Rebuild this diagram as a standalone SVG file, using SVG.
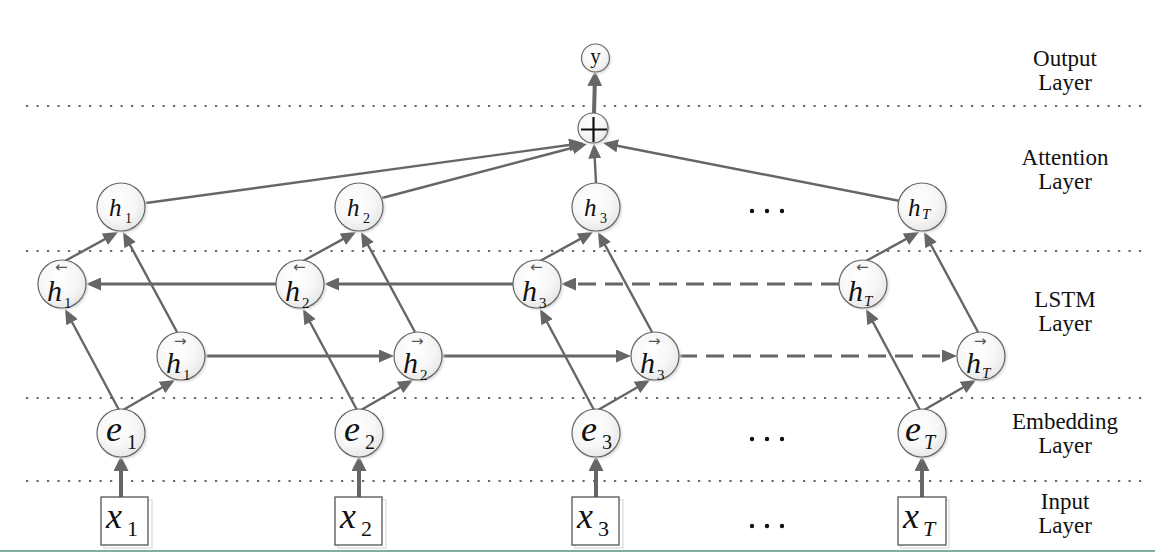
<svg xmlns="http://www.w3.org/2000/svg" width="1155" height="555" viewBox="0 0 1155 555">
<style>
.dot{stroke:#6a6a6a;stroke-width:2.2;stroke-dasharray:2.2 8.3;fill:none}
.c{stroke:#666;stroke-width:2.4;fill:none}
.ch{stroke:#666;stroke-width:3;fill:none}
.ck{stroke:#666;stroke-width:4;fill:none}
.dash{stroke-dasharray:18 9}
.node{fill:url(#g);stroke:#666;stroke-width:1.2}
.shadow{fill:#dcdcdc;filter:url(#blur)}
.box{fill:#fff;stroke:#555;stroke-width:1.3}
.boxs{fill:none;stroke:#e2e2e2;stroke-width:1.5}
.lbl{font-size:23px;fill:#111;text-anchor:middle}
.t{fill:#111}
.m{font-style:italic}
.ht{font-size:25px}
.hs{font-size:14px}
.hb{font-size:30px}
.hbs{font-size:15px}
.ar{font-family:"DejaVu Sans",sans-serif;font-size:15px;fill:#555;font-style:normal}
.ee{font-size:36px}
.es{font-size:20px}
.xs{font-size:22px}
</style>
<defs>
<radialGradient id="g" cx="0.42" cy="0.38" r="0.65">
<stop offset="0" stop-color="#ffffff"/>
<stop offset="0.6" stop-color="#f7f7f7"/>
<stop offset="1" stop-color="#e6e6e6"/>
</radialGradient>
<filter id="blur" x="-20%" y="-20%" width="140%" height="140%"><feGaussianBlur stdDeviation="1.2"/></filter>
<marker id="a" markerUnits="userSpaceOnUse" markerWidth="15" markerHeight="13" refX="11" refY="6.5" orient="auto"><path d="M0,0 L15,6.5 L0,13 z" fill="#666"/></marker>
<marker id="ak" markerUnits="userSpaceOnUse" markerWidth="15" markerHeight="15" refX="10" refY="7.5" orient="auto"><path d="M0,0 L15,7.5 L0,15 z" fill="#666"/></marker>
</defs>
<rect width="1155" height="555" fill="#fff"/>

<g id="layer-lines">
<line class="dot" x1="26" y1="106" x2="1142" y2="106"/>
<line class="dot" x1="26" y1="251" x2="1142" y2="251"/>
<line class="dot" x1="26" y1="398" x2="1142" y2="398"/>
<line class="dot" x1="26" y1="481" x2="1142" y2="481"/>
<line x1="0" y1="551" x2="1155" y2="551" stroke="#5a9478" stroke-width="1.5"/>
</g>

<g id="layer-labels" font-family="Liberation Serif, Times New Roman, DejaVu Serif, serif">
<text class="lbl" x="1065" y="66">Output</text>
<text class="lbl" x="1065" y="90">Layer</text>
<text class="lbl" x="1065" y="165">Attention</text>
<text class="lbl" x="1065" y="189">Layer</text>
<text class="lbl" x="1065" y="307">LSTM</text>
<text class="lbl" x="1065" y="331">Layer</text>
<text class="lbl" x="1065" y="429">Embedding</text>
<text class="lbl" x="1065" y="453">Layer</text>
<text class="lbl" x="1065" y="509">Input</text>
<text class="lbl" x="1065" y="533">Layer</text>
</g>

<g id="connectors">
<line class="ck" x1="594" y1="113" x2="595" y2="76" marker-end="url(#ak)"/>
<line class="c" x1="146" y1="203" x2="580" y2="143.5" marker-end="url(#a)"/>
<line class="c" x1="382" y1="198" x2="583.1" y2="145" marker-end="url(#a)"/>
<line class="c" x1="596" y1="183" x2="594.2" y2="147.5" marker-end="url(#a)"/>
<line class="c" x1="900" y1="201" x2="606.9" y2="143.8" marker-end="url(#a)"/>

<line class="c" x1="65" y1="261" x2="114.5" y2="233.9" marker-end="url(#a)"/>
<line class="c" x1="177" y1="332" x2="124.9" y2="235.5" marker-end="url(#a)"/>
<line class="c" x1="119" y1="410" x2="66.9" y2="312.5" marker-end="url(#a)"/>
<line class="c" x1="123" y1="410" x2="171.5" y2="382" marker-end="url(#a)"/>

<line class="c" x1="303" y1="261" x2="352.5" y2="233.9" marker-end="url(#a)"/>
<line class="c" x1="415" y1="332" x2="362.9" y2="235.5" marker-end="url(#a)"/>
<line class="c" x1="357" y1="410" x2="304.9" y2="312.5" marker-end="url(#a)"/>
<line class="c" x1="361" y1="410" x2="409.5" y2="382" marker-end="url(#a)"/>

<line class="c" x1="540" y1="261" x2="589.5" y2="233.9" marker-end="url(#a)"/>
<line class="c" x1="652" y1="332" x2="599.9" y2="235.5" marker-end="url(#a)"/>
<line class="c" x1="594" y1="410" x2="541.9" y2="312.5" marker-end="url(#a)"/>
<line class="c" x1="598" y1="410" x2="646.5" y2="382" marker-end="url(#a)"/>

<line class="c" x1="866" y1="261" x2="915.5" y2="233.9" marker-end="url(#a)"/>
<line class="c" x1="978" y1="332" x2="925.9" y2="235.5" marker-end="url(#a)"/>
<line class="c" x1="920" y1="410" x2="867.9" y2="312.5" marker-end="url(#a)"/>
<line class="c" x1="924" y1="410" x2="972.5" y2="382" marker-end="url(#a)"/>

<line class="ch" x1="276" y1="284" x2="90" y2="284" marker-end="url(#a)"/>
<line class="ch" x1="513" y1="284" x2="328" y2="284" marker-end="url(#a)"/>
<line class="ch dash" x1="839" y1="284" x2="565" y2="284" marker-end="url(#a)"/>
<line class="ch" x1="205" y1="356" x2="390" y2="356" marker-end="url(#a)"/>
<line class="ch" x1="442" y1="356" x2="627" y2="356" marker-end="url(#a)"/>
<line class="ch dash" x1="679" y1="356" x2="953" y2="356" marker-end="url(#a)"/>

<line class="ck" x1="121" y1="497" x2="121" y2="461" marker-end="url(#ak)"/>
<line class="ck" x1="359" y1="497" x2="359" y2="461" marker-end="url(#ak)"/>
<line class="ck" x1="596" y1="497" x2="596" y2="461" marker-end="url(#ak)"/>
<line class="ck" x1="922" y1="497" x2="922" y2="461" marker-end="url(#ak)"/>
</g>

<g id="nodes" font-family="Liberation Serif, Times New Roman, DejaVu Serif, serif">
<g id="node-y">
<circle class="shadow" cx="597" cy="60" r="14"/>
<circle class="node" cx="595.5" cy="58" r="14"/>
<text class="t" x="595.5" y="63" font-size="21" text-anchor="middle">y</text>
</g>
<g id="node-sum">
<circle class="shadow" cx="595" cy="130" r="15"/>
<circle class="node" cx="593" cy="128" r="15"/>
<path d="M581,129.5 H607 M593.5,117 V142" stroke="#111" stroke-width="2.2" fill="none"/>
</g>

<g id="node-h1">
<circle class="shadow" cx="123" cy="209" r="24"/>
<circle class="node" cx="121" cy="207" r="24"/>
<text class="t"><tspan class="m ht" x="109" y="216">h</tspan><tspan class="hs" x="125" y="223">1</tspan></text>
</g>
<g id="node-h2">
<circle class="shadow" cx="361" cy="209" r="24"/>
<circle class="node" cx="359" cy="207" r="24"/>
<text class="t"><tspan class="m ht" x="347" y="216">h</tspan><tspan class="hs" x="363" y="223">2</tspan></text>
</g>
<g id="node-h3">
<circle class="shadow" cx="598" cy="209" r="24"/>
<circle class="node" cx="596" cy="207" r="24"/>
<text class="t"><tspan class="m ht" x="584" y="216">h</tspan><tspan class="hs" x="600" y="223">3</tspan></text>
</g>
<g id="node-hT">
<circle class="shadow" cx="924" cy="209" r="24"/>
<circle class="node" cx="922" cy="207" r="24"/>
<text class="t"><tspan class="m ht" x="908" y="216">h</tspan><tspan class="m hbs" x="922" y="219">T</tspan></text>
</g>
<g id="ellipsis-h">
<circle cx="752" cy="211" r="2.2" fill="#111"/><circle cx="767" cy="211" r="2.2" fill="#111"/><circle cx="782" cy="211" r="2.2" fill="#111"/>
</g>

<g id="node-bh1">
<circle class="shadow" cx="64" cy="286" r="24"/>
<circle class="node" cx="62" cy="284" r="24"/>
<text class="t"><tspan class="ar" x="55" y="272">←</tspan><tspan class="m hb" x="47" y="301">h</tspan><tspan class="hbs" x="64" y="308">1</tspan></text>
</g>
<g id="node-bh2">
<circle class="shadow" cx="302" cy="286" r="24"/>
<circle class="node" cx="300" cy="284" r="24"/>
<text class="t"><tspan class="ar" x="293" y="272">←</tspan><tspan class="m hb" x="285" y="301">h</tspan><tspan class="hbs" x="302" y="308">2</tspan></text>
</g>
<g id="node-bh3">
<circle class="shadow" cx="539" cy="286" r="24"/>
<circle class="node" cx="537" cy="284" r="24"/>
<text class="t"><tspan class="ar" x="530" y="272">←</tspan><tspan class="m hb" x="522" y="301">h</tspan><tspan class="hbs" x="539" y="308">3</tspan></text>
</g>
<g id="node-bhT">
<circle class="shadow" cx="865" cy="286" r="24"/>
<circle class="node" cx="863" cy="284" r="24"/>
<text class="t"><tspan class="ar" x="856" y="272">←</tspan><tspan class="m hb" x="848" y="301">h</tspan><tspan class="m hbs" x="864" y="306">T</tspan></text>
</g>

<g id="node-fh1">
<circle class="shadow" cx="183" cy="358" r="24"/>
<circle class="node" cx="181" cy="356" r="24"/>
<text class="t"><tspan class="ar" x="174" y="346">→</tspan><tspan class="m hb" x="166" y="373">h</tspan><tspan class="hbs" x="183" y="380">1</tspan></text>
</g>
<g id="node-fh2">
<circle class="shadow" cx="420" cy="358" r="24"/>
<circle class="node" cx="418" cy="356" r="24"/>
<text class="t"><tspan class="ar" x="411" y="346">→</tspan><tspan class="m hb" x="403" y="373">h</tspan><tspan class="hbs" x="420" y="380">2</tspan></text>
</g>
<g id="node-fh3">
<circle class="shadow" cx="657" cy="358" r="24"/>
<circle class="node" cx="655" cy="356" r="24"/>
<text class="t"><tspan class="ar" x="648" y="346">→</tspan><tspan class="m hb" x="640" y="373">h</tspan><tspan class="hbs" x="657" y="380">3</tspan></text>
</g>
<g id="node-fhT">
<circle class="shadow" cx="983" cy="358" r="24"/>
<circle class="node" cx="981" cy="356" r="24"/>
<text class="t"><tspan class="ar" x="974" y="346">→</tspan><tspan class="m hb" x="966" y="373">h</tspan><tspan class="m hbs" x="982" y="378">T</tspan></text>
</g>

<g id="node-e1">
<circle class="shadow" cx="123" cy="435" r="24"/>
<circle class="node" cx="121" cy="433" r="24"/>
<text class="t"><tspan class="m ee" x="106" y="441">e</tspan><tspan class="es" x="127" y="449">1</tspan></text>
</g>
<g id="node-e2">
<circle class="shadow" cx="361" cy="435" r="24"/>
<circle class="node" cx="359" cy="433" r="24"/>
<text class="t"><tspan class="m ee" x="344" y="441">e</tspan><tspan class="es" x="365" y="449">2</tspan></text>
</g>
<g id="node-e3">
<circle class="shadow" cx="598" cy="435" r="24"/>
<circle class="node" cx="596" cy="433" r="24"/>
<text class="t"><tspan class="m ee" x="581" y="441">e</tspan><tspan class="es" x="602" y="449">3</tspan></text>
</g>
<g id="node-eT">
<circle class="shadow" cx="924" cy="435" r="24"/>
<circle class="node" cx="922" cy="433" r="24"/>
<text class="t"><tspan class="m ee" x="905" y="441">e</tspan><tspan class="m es" x="924" y="449">T</tspan></text>
</g>
<g id="ellipsis-e">
<circle cx="752" cy="439" r="2.2" fill="#111"/><circle cx="767" cy="439" r="2.2" fill="#111"/><circle cx="782" cy="439" r="2.2" fill="#111"/>
</g>

<g id="node-x1">
<rect class="boxs" x="104" y="500" width="48" height="48"/>
<rect class="box" x="101" y="497" width="47" height="48"/>
<text class="t"><tspan class="m ee" x="106" y="528">x</tspan><tspan class="xs" x="127" y="536">1</tspan></text>
</g>
<g id="node-x2">
<rect class="boxs" x="338" y="500" width="48" height="48"/>
<rect class="box" x="335" y="497" width="47" height="48"/>
<text class="t"><tspan class="m ee" x="340" y="528">x</tspan><tspan class="xs" x="361" y="536">2</tspan></text>
</g>
<g id="node-x3">
<rect class="boxs" x="575" y="500" width="48" height="48"/>
<rect class="box" x="572" y="497" width="47" height="48"/>
<text class="t"><tspan class="m ee" x="577" y="528">x</tspan><tspan class="xs" x="598" y="536">3</tspan></text>
</g>
<g id="node-xT">
<rect class="boxs" x="901" y="500" width="48" height="48"/>
<rect class="box" x="898" y="497" width="48" height="48"/>
<text class="t"><tspan class="m ee" x="903" y="528">x</tspan><tspan class="m xs" x="923" y="536">T</tspan></text>
</g>
<g id="ellipsis-x">
<circle cx="752" cy="526" r="2.2" fill="#111"/><circle cx="767" cy="526" r="2.2" fill="#111"/><circle cx="782" cy="526" r="2.2" fill="#111"/>
</g>
</g>
</svg>
